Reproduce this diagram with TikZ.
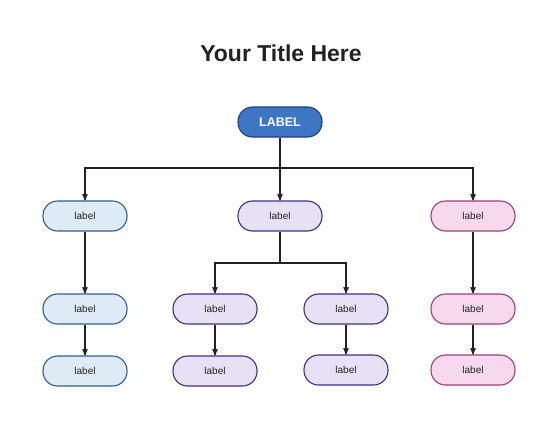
\documentclass[tikz,border=0pt]{standalone}
\usepackage{fontspec}
\setmainfont{Liberation Sans}
\usetikzlibrary{arrows,positioning}

\definecolor{rootfill}{HTML}{3F76C4}
\definecolor{rootline}{HTML}{1E3F7E}
\definecolor{bluefill}{HTML}{DEEBF7}
\definecolor{blueline}{HTML}{2E5F8E}
\definecolor{purpfill}{HTML}{E6E1F5}
\definecolor{purpline}{HTML}{3F2D85}
\definecolor{pinkfill}{HTML}{F6D9EE}
\definecolor{pinkline}{HTML}{9C3F72}
\definecolor{wire}{HTML}{222222}

\tikzset{
	pill/.style={draw,line width=1.1pt,rounded corners=14.5pt,minimum width=84pt,
		minimum height=30pt,inner sep=0pt,font=\fontsize{10}{12}\selectfont},
	bluepill/.style={pill,fill=bluefill,draw=blueline},
	purppill/.style={pill,fill=purpfill,draw=purpline},
	pinkpill/.style={pill,fill=pinkfill,draw=pinkline},
	rootpill/.style={pill,fill=rootfill,draw=rootline,text=white,
		font=\bfseries\fontsize{12.5}{14}\selectfont}
}

\begin{document}
\begin{tikzpicture}[->,>=stealth',wire,line width=1.25pt,on grid,node distance=94pt]
	\useasboundingbox (0,0) rectangle (557pt,-434pt);
	\node[font=\bfseries\fontsize{23}{27}\selectfont,text=wire](title) at (281pt,-53pt){Your Title Here};
	\node[rootpill](root) at (280pt,-122pt){LABEL};
	
	\node[purppill](M)[below=94pt of root]{label};
	\node[bluepill](L)[left=195pt of M]{label};
	\node[pinkpill](R)[right=193pt of M]{label};
	
	\node[bluepill](L1)[below=93pt of L]{label};
	\node[bluepill](L2)[below=62pt of L1]{label};
	\node[purppill](MA)[below left=93pt and 65pt of M]{label};
	\node[purppill](MB)[below right=93pt and 66pt of M]{label};
	\node[purppill](MA1)[below=62pt of MA]{label};
	\node[purppill](MB1)[below=61pt of MB]{label};
	\node[pinkpill](R1)[below=93pt of R]{label};
	\node[pinkpill](R2)[below=61pt of R1]{label};
	
	\draw (root) -- ++(0,-46pt) -| (L);
	\draw (root) -- (M);
	\draw (root) -- ++(0,-46pt) -| (R);
	\draw (L) -- (L1);
	\draw (L1) -- (L2);
	\draw (M) -- ++(0,-47pt) -| (MA);
	\draw (M) -- ++(0,-47pt) -| (MB);
	\draw (MA) -- (MA1);
	\draw (MB) -- (MB1);
	\draw (R) -- (R1);
	\draw (R1) -- (R2);
\end{tikzpicture}
\end{document}
